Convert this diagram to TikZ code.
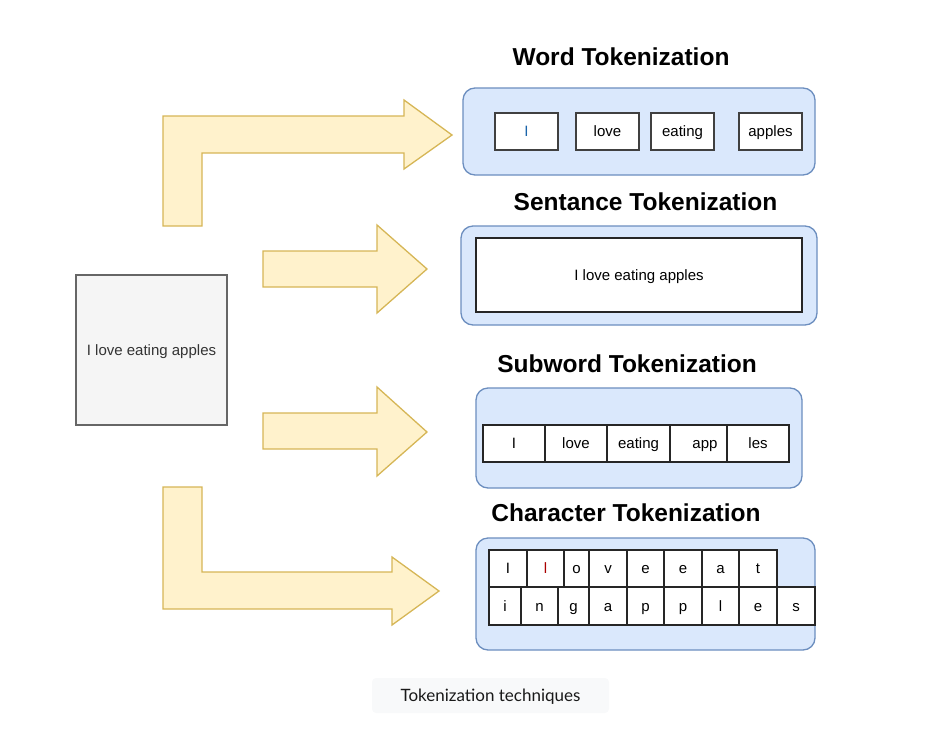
\documentclass[tikz,border=0pt]{standalone}
\usepackage{fontspec}
\setmainfont{Liberation Sans}
\newfontfamily\capfont{Lato}
\usepackage{tikz}
\usetikzlibrary{shapes}
\definecolor{tk_blue}{RGB}{218, 232, 252}
\definecolor{tk_blueline}{RGB}{108, 142, 191}
\definecolor{tk_yellow}{RGB}{255, 242, 204}
\definecolor{tk_yellowline}{RGB}{214, 182, 86}
\definecolor{tk_grey}{RGB}{245, 245, 245}
\definecolor{tk_greyline}{RGB}{102, 102, 102}
\definecolor{tk_cap}{RGB}{248, 249, 250}
\definecolor{tk_red}{RGB}{170, 0, 0}
\definecolor{tk_text}{RGB}{27, 100, 170}
\tikzstyle{box}=[rectangle,rounded corners=12pt,fill=tk_blue,draw=tk_blueline,
  line width=1.3pt,inner sep=0pt]
\tikzstyle{tok}=[rectangle,fill=white,draw=black!85,line width=1.3pt,inner sep=0pt,
  minimum height=37pt,text height=10.7pt,text depth=0pt,font=\fontsize{15}{18}\selectfont]
\tikzstyle{title}=[anchor=base,inner sep=0pt,font=\fontsize{24.5}{28}\selectfont\bfseries]
\tikzstyle{bigarrow}=[fill=tk_yellow,draw=tk_yellowline,line width=1.3pt,line join=miter]

\begin{document}
\begin{tikzpicture}[x=1pt,y=-1pt]
    \useasboundingbox (0,0) rectangle (950,731);
    % input sentence
    \node [rectangle,fill=tk_grey,draw=tk_greyline,line width=1.3pt,minimum width=151pt,
      minimum height=150pt,text height=10.7pt,text depth=0pt,text=black!80,
      font=\fontsize{15}{18}\selectfont] (input) at (151.5,350) {I love eating apples};
    % arrows
    \draw [style=bigarrow] (163,226) -- (163,116) -- (404,116) -- (404,100) -- (452,135)
      -- (404,169) -- (404,153) -- (202,153) -- (202,226) -- cycle;
    \draw [style=bigarrow] (263,251) -- (377,251) -- (377,225) -- (427,269) -- (377,313)
      -- (377,287) -- (263,287) -- cycle;
    \draw [style=bigarrow] (263,413) -- (377,413) -- (377,387) -- (427,432) -- (377,476)
      -- (377,449) -- (263,449) -- cycle;
    \draw [style=bigarrow] (163,487) -- (202,487) -- (202,572) -- (392,572) -- (392,557)
      -- (439,591) -- (392,625) -- (392,609) -- (163,609) -- cycle;
    % word tokenization
    \node [style=title] (wordtitle) at (621,65) {Word Tokenization};
    \node [style=box,minimum width=352pt,minimum height=87pt] (wordbox) at (639,131.5) {};
    \node [style=tok,minimum width=63pt,draw=black!75,text=tk_text] (w1) at (526.5,131.5) {I};
    \node [style=tok,minimum width=63pt,draw=black!75] (w2) at (607.5,131.5) {love};
    \node [style=tok,minimum width=63pt,draw=black!75] (w3) at (682.5,131.5) {eating};
    \node [style=tok,minimum width=63pt,draw=black!75] (w4) at (770.5,131.5) {apples};
    % sentence tokenization
    \node [style=title] (senttitle) at (645.5,210) {Sentance Tokenization};
    \node [style=box,minimum width=356pt,minimum height=99pt] (sentbox) at (639,275.5) {};
    \node [style=tok,minimum width=326pt,minimum height=74pt] (s1) at (639,275) {I love eating apples};
    % subword tokenization
    \node [style=title] (subtitle) at (627,372) {Subword Tokenization};
    \node [style=box,minimum width=326pt,minimum height=100pt] (subbox) at (639,438) {};
    \node [style=tok,minimum width=62pt] (u1) at (514,443.5) {I};
    \node [style=tok,minimum width=62pt] (u2) at (576,443.5) {love};
    \node [style=tok,minimum width=63pt] (u3) at (638.5,443.5) {eating};
    \node [style=tok,minimum width=70pt] (u4) at (705,443.5) {app};
    \node [style=tok,minimum width=62pt] (u5) at (758,443.5) {les};
    % character tokenization
    \node [style=title] (chartitle) at (626,521) {Character Tokenization};
    \node [style=box,minimum width=339pt,minimum height=112pt] (charbox) at (645.5,594) {};
    \node [style=tok,minimum width=38pt] (c1) at (508,568.5) {I};
    \node [style=tok,minimum width=37pt,text=tk_red] (c2) at (545.5,568.5) {l};
    \node [style=tok,minimum width=25pt] (c3) at (576.5,568.5) {o};
    \node [style=tok,minimum width=38pt] (c4) at (608,568.5) {v};
    \node [style=tok,minimum width=37pt] (c5) at (645.5,568.5) {e};
    \node [style=tok,minimum width=38pt] (c6) at (683,568.5) {e};
    \node [style=tok,minimum width=37pt] (c7) at (720.5,568.5) {a};
    \node [style=tok,minimum width=38pt] (c8) at (758,568.5) {t};
    \node [style=tok,minimum width=32pt,minimum height=38pt] (d1) at (505,606) {i};
    \node [style=tok,minimum width=37pt,minimum height=38pt] (d2) at (539.5,606) {n};
    \node [style=tok,minimum width=31pt,minimum height=38pt] (d3) at (573.5,606) {g};
    \node [style=tok,minimum width=38pt,minimum height=38pt] (d4) at (608,606) {a};
    \node [style=tok,minimum width=37pt,minimum height=38pt] (d5) at (645.5,606) {p};
    \node [style=tok,minimum width=38pt,minimum height=38pt] (d6) at (683,606) {p};
    \node [style=tok,minimum width=37pt,minimum height=38pt] (d7) at (720.5,606) {l};
    \node [style=tok,minimum width=38pt,minimum height=38pt] (d8) at (758,606) {e};
    \node [style=tok,minimum width=38pt,minimum height=38pt] (d9) at (796,606) {s};
    % caption
    \node [rectangle,rounded corners=4pt,fill=tk_cap,minimum width=237pt,minimum height=35pt,
      text height=12pt,text depth=0pt,text=black!90,
      font=\capfont\fontsize{17}{20}\selectfont] (caption) at (490.5,695.5) {Tokenization techniques};
  \end{tikzpicture}
\end{document}
